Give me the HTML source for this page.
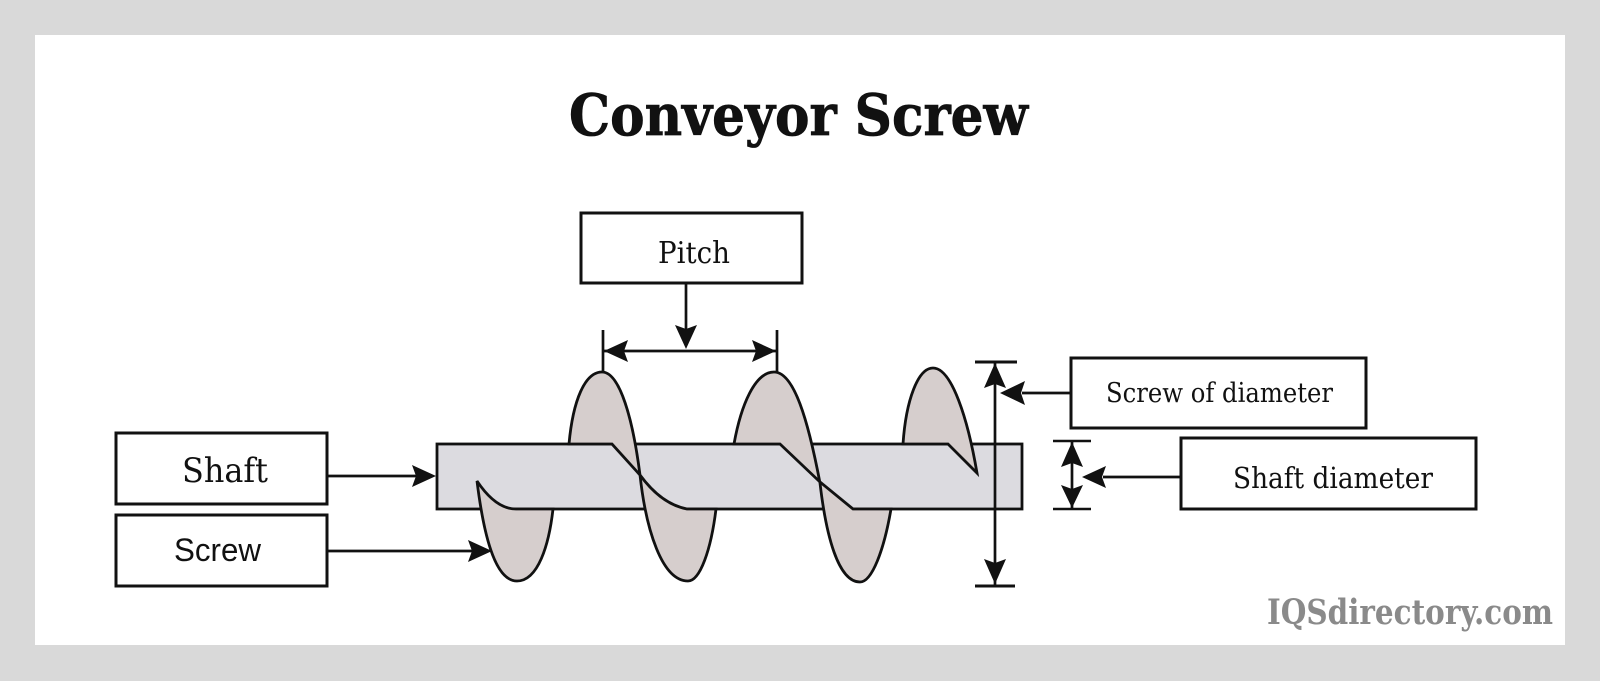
<!DOCTYPE html>
<html>
<head>
<meta charset="utf-8">
<style>
  html, body { margin:0; padding:0; background:#d9d9d9; }
  body { width:1600px; height:681px; overflow:hidden; }
  svg { display:block; }
</style>
</head>
<body>
<svg width="1600" height="681" viewBox="0 0 1600 681" xmlns="http://www.w3.org/2000/svg">
  <rect x="0" y="0" width="1600" height="681" fill="#d9d9d9"/>
  <rect x="35" y="35" width="1530" height="610" fill="#ffffff"/>

  <!-- Title -->
  <text x="569" y="135" font-family="'DejaVu Serif', 'Liberation Serif', serif" font-weight="bold" font-size="57" textLength="459" lengthAdjust="spacingAndGlyphs" fill="#111" stroke="#111" stroke-width="0.8">Conveyor Screw</text>

  <!-- Shaft -->
  <rect x="437" y="444" width="585" height="65" fill="#dcdbe0" stroke="#111" stroke-width="2.8"/>

  <!-- Screw blades -->
  <g fill="#d6cecd" stroke="#111" stroke-width="2.8" stroke-linejoin="miter">
    <path d="M477,481 C483,530 494,581 517,581 C538,581 549,545 553,509 L516,509 C500,509 487,496 477,481 Z"/>
    <path d="M569,444 C573,400 585,372 602,372 C620,372 633,420 640,475 C646,530 662,581 688,581 C700,581 711,550 716,509 L687,509 C666,505 651,490 640,475 L612,444 Z"/>
    <path d="M734,444 C741,405 755,372 774,372 C794,372 808,420 820,483 C826,535 838,582 860,582 C872,582 884,550 891,509 L853,509 L820,482 L780,444 Z"/>
    <path d="M903,444 C906,400 918,368 933,368 C952,368 968,420 977,473 L948,444 Z"/>
  </g>

  <!-- Label boxes -->
  <g fill="#ffffff" stroke="#111" stroke-width="3">
    <rect x="116" y="433" width="211" height="71"/>
    <rect x="116" y="515" width="211" height="71"/>
    <rect x="581" y="213" width="221" height="70"/>
    <rect x="1071" y="358" width="295" height="70"/>
    <rect x="1181" y="438" width="295" height="71"/>
  </g>

  <!-- Label text -->
  <g fill="#111">
    <text x="182" y="482" font-family="'DejaVu Serif', serif" font-size="34" textLength="86" lengthAdjust="spacingAndGlyphs">Shaft</text>
    <text x="174" y="561" font-family="'Liberation Sans', sans-serif" font-size="32" textLength="87" lengthAdjust="spacingAndGlyphs">Screw</text>
    <text x="658" y="263" font-family="'DejaVu Serif', serif" font-size="30" textLength="72" lengthAdjust="spacingAndGlyphs">Pitch</text>
    <text x="1106" y="402" font-family="'DejaVu Serif', serif" font-size="27.5" textLength="227" lengthAdjust="spacingAndGlyphs">Screw of diameter</text>
    <text x="1233" y="488" font-family="'DejaVu Serif', serif" font-size="28.5" textLength="200" lengthAdjust="spacingAndGlyphs">Shaft diameter</text>
  </g>

  <!-- Connector lines -->
  <g stroke="#111" stroke-width="2.7" fill="none">
    <line x1="327" y1="476" x2="418" y2="476"/>
    <line x1="327" y1="551" x2="474" y2="551"/>
    <line x1="686" y1="283" x2="686" y2="331"/>
    <line x1="604" y1="351" x2="776" y2="351"/>
    <line x1="603" y1="330" x2="603" y2="373"/>
    <line x1="777" y1="330" x2="777" y2="373"/>
    <line x1="995" y1="362" x2="995" y2="586"/>
    <line x1="975" y1="362" x2="1017" y2="362" stroke-width="3"/>
    <line x1="975" y1="586" x2="1015" y2="586" stroke-width="3"/>
    <line x1="1071" y1="393" x2="1022" y2="393"/>
    <line x1="1072" y1="441" x2="1072" y2="509"/>
    <line x1="1053" y1="441" x2="1091" y2="441" stroke-width="2.4"/>
    <line x1="1053" y1="509" x2="1091" y2="509" stroke-width="2.4"/>
    <line x1="1181" y1="477" x2="1103" y2="477"/>
  </g>

  <!-- Arrowheads -->
  <g fill="#111" stroke="none">
    <polygon points="436,476 412,465 416,476 412,487"/>
    <polygon points="492,551 468,540 472,551 468,562"/>
    <polygon points="686,349 675,325 686,329 697,325"/>
    <polygon points="604,351 628,340 624,351 628,362"/>
    <polygon points="776,351 752,340 756,351 752,362"/>
    <polygon points="995,363 984,388 995,384 1006,388"/>
    <polygon points="995,584 984,559 995,563 1006,559"/>
    <polygon points="1000,393 1025,381 1021,393 1025,405"/>
    <polygon points="1072,442 1061,467 1072,463 1083,467"/>
    <polygon points="1072,508 1061,485 1072,489 1083,485"/>
    <polygon points="1082,477 1106,466 1102,477 1106,488"/>
  </g>

  <!-- Watermark -->
  <text x="1267" y="624" font-family="'DejaVu Serif', serif" font-weight="bold" font-size="35" textLength="286" lengthAdjust="spacingAndGlyphs" fill="#8a8a8a">IQSdirectory.com</text>
</svg>
</body>
</html>
